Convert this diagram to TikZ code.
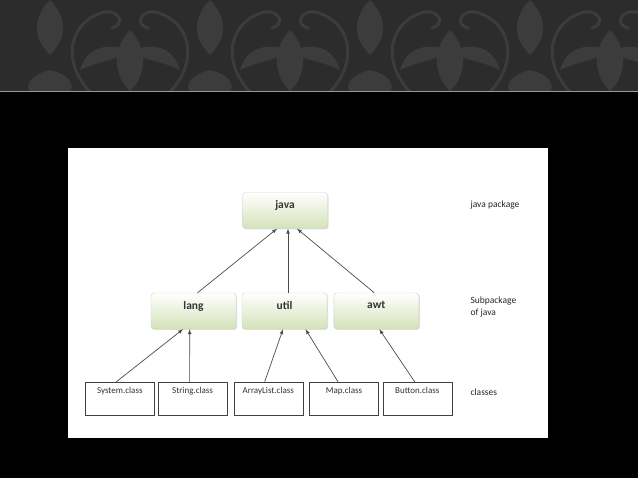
\documentclass[tikz,border=0pt]{standalone}
\usepackage{fontspec}
\setmainfont{Carlito}
\usetikzlibrary{shadows}
\definecolor{hdr}{HTML}{2C2C2C}
\definecolor{orn}{HTML}{3C3C3C}
\definecolor{gold}{HTML}{A8997A}
\definecolor{pkgfill}{HTML}{D4E2B8}
\tikzset{
  pkg/.style={draw=black!18, rounded corners=3pt, top color=white, bottom color=pkgfill,
    minimum width=85pt, minimum height=36pt, font=\bfseries\fontsize{11.5}{13}\selectfont,
    text=black!80, text depth=12pt, drop shadow={opacity=0.25, shadow xshift=1pt, shadow yshift=-1pt}},
  cls/.style={draw=black!75, fill=white, minimum width=69pt, minimum height=33pt,
    font=\fontsize{9}{10}\selectfont, text=black!80, text depth=16pt, inner sep=1pt},
  lbl/.style={font=\fontsize{9.5}{11.5}\selectfont, text=black!85, anchor=west, align=left},
  arr/.style={draw=black!70, line width=0.7pt, -latex},
  leaf/.style={fill=orn, draw=none},
  scroll/.style={draw=orn, line width=3pt, line cap=round}
}
\begin{document}
\begin{tikzpicture}[x=1pt,y=-1pt]
\useasboundingbox (0,0) rectangle (638,478);
\fill[black] (0,0) rectangle (638,478);
\fill[hdr] (0,0) rectangle (638,92);
\begin{scope}
\clip (0,0) rectangle (638,92);
\foreach \c in {0,160,320,480,640}{
  \draw[scroll] (\c+90,92) .. controls (\c+60,60) and (\c+70,20) .. (\c+105,12) .. controls (\c+120,10) and (\c+125,25) .. (\c+112,28);
  \draw[scroll] (\c+170,92) .. controls (\c+200,60) and (\c+190,20) .. (\c+155,12) .. controls (\c+140,10) and (\c+135,25) .. (\c+148,28);
  \fill[leaf] (\c+130,92) .. controls (\c+110,70) and (\c+115,45) .. (\c+130,30) .. controls (\c+145,45) and (\c+150,70) .. (\c+130,92);
  \fill[leaf] (\c+130,50) .. controls (\c+95,40) and (\c+85,55) .. (\c+80,70) .. controls (\c+100,60) and (\c+115,62) .. (\c+130,50);
  \fill[leaf] (\c+130,50) .. controls (\c+165,40) and (\c+175,55) .. (\c+180,70) .. controls (\c+160,60) and (\c+145,62) .. (\c+130,50);
  \fill[leaf] (\c+50,0) .. controls (\c+30,20) and (\c+35,40) .. (\c+50,55) .. controls (\c+65,40) and (\c+70,20) .. (\c+50,0);
  \fill[leaf] (\c+50,70) .. controls (\c+30,75) and (\c+25,85) .. (\c+30,92) -- (\c+70,92) .. controls (\c+75,85) and (\c+70,75) .. (\c+50,70);
}
\end{scope}
\draw[gold, line width=1pt] (0,92) -- (638,92);
\fill[white] (68,148) rectangle (548,438);

\node[pkg] (java) at (285,210.5) {java};
\node[pkg] (lang) at (193.5,311) {lang};
\node[pkg] (util) at (284.5,311) {util};
\node[pkg] (awt) at (376.3,311) {awt};
\node[cls] (sys) at (119.8,398.5) {System.class};
\node[cls] (str) at (192.6,398.5) {String.class};
\node[cls] (arr) at (268.3,398.5) {ArrayList.class};
\node[cls] (map) at (344,398.5) {Map.class};
\node[cls] (btn) at (417.3,398.5) {Button.class};

\node[lbl] (l1) at (467,205) {java package};
\node[lbl] (l2) at (467,307) {Subpackage\\of java};
\node[lbl] (l3) at (467,392) {classes};

\draw[arr] ([xshift=4pt]lang.north) -- ([xshift=-8pt]java.south);
\draw[arr] ([xshift=3.5pt]util.north) -- ([xshift=3pt]java.south);
\draw[arr] ([xshift=-2pt]awt.north) -- ([xshift=12pt]java.south);
\draw[arr] ([xshift=-3.5pt]sys.north) -- ([xshift=-10.5pt]lang.south);
\draw[arr] ([xshift=-3pt]str.north) -- ([xshift=-3.8pt]lang.south);
\draw[arr] ([xshift=-3.6pt]arr.north) -- ([xshift=-1.5pt]util.south);
\draw[arr] ([xshift=-6pt]map.north) -- ([xshift=21pt]util.south);
\draw[arr] ([xshift=-2.6pt]btn.north) -- ([xshift=3pt]awt.south);
\end{tikzpicture}
\end{document}
